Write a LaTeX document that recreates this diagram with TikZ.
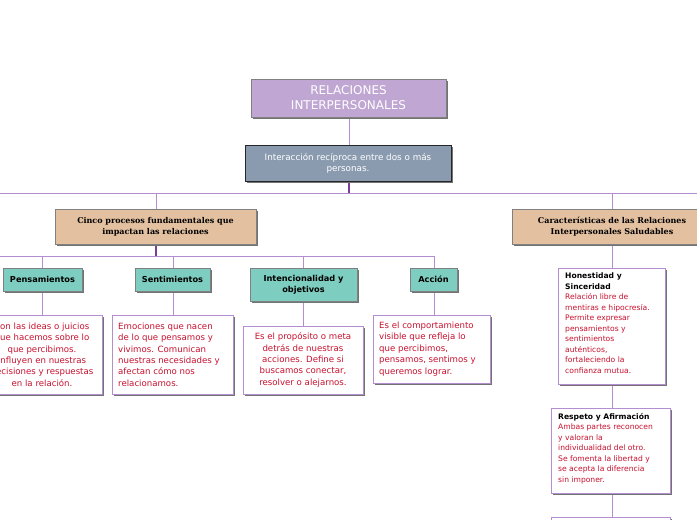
\documentclass[tikz,border=0pt]{standalone}
\usepackage{fontspec}
\setmainfont{DejaVu Sans}
\newfontfamily\serifb{DejaVu Serif}
\definecolor{lil}{HTML}{C0A6D3}
\definecolor{slate}{HTML}{8A9BB0}
\definecolor{tan}{HTML}{E2C0A0}
\definecolor{teal}{HTML}{7DCDC0}
\definecolor{lnk}{HTML}{B48ED0}
\definecolor{lnkd}{HTML}{7A3E9A}
\definecolor{red}{HTML}{C8102E}
\begin{document}
\begin{tikzpicture}[x=1pt,y=-1pt,
 ln/.style={draw=lnk,line width=0.9pt},
 lnd/.style={draw=lnkd,line width=1.2pt},
 t/.style={font=\fontsize{8.8}{11}\selectfont,align=center,text=white},
 tb/.style={font=\fontsize{8.2}{11}\selectfont\bfseries,align=center},
 tr/.style={font=\fontsize{8.6}{11.4}\selectfont,text=red,inner sep=0pt}]
\useasboundingbox (0,0) rectangle (697,520);
% connectors
\coordinate (h0) at (0,193); \coordinate (h1) at (697,193);
\draw[ln] (h0) -- (h1);
\draw[ln] (349,117) -- (349,145);
\draw[lnd] (349,181) -- (349,193);
\draw[ln] (156,193) -- (156,209);
\draw[ln] (612,193) -- (612,209);
\draw[lnd] (156,244) -- (156,256);
\draw[ln] (0,256) -- (435,256);
\foreach \x in {42,173,303,434} \draw[ln] (\x,256) -- (\x,268);
\foreach \x in {42,173,434} \draw[ln] (\x,291) -- (\x,315);
\draw[ln] (303,301) -- (303,326);
\draw[ln] (612,244) -- (612,268);
\draw[ln] (612,384) -- (612,408);
\draw[ln] (612,493) -- (612,517);
% boxes
\newcommand\bx[6]{% name, x1,y1,x2,y2, fill/draw
 \fill[black!55] (#2+2,#3+2) rectangle (#4+2,#5+2);
 \filldraw[#6,line width=0.8pt] (#2,#3) rectangle (#4,#5);
 \coordinate (#1) at ({(#2+#4)/2},{(#3+#5)/2});}
\bx{a}{251}{79}{446}{117}{fill=lil,draw=black!50}
\node[t,font=\fontsize{12}{15}\selectfont] at (a) {RELACIONES\\INTERPERSONALES};
\bx{b}{245}{145}{451}{181}{fill=slate,draw=black!85}
\node[t] at (b) {Interacción recíproca entre dos o más\\personas.};
\bx{c}{55}{209}{256}{244}{fill=tan,draw=black!50}
\node[font=\serifb\fontsize{8}{11}\selectfont\bfseries,align=center] at (c) {Cinco procesos fundamentales que\\impactan las relaciones};
\bx{d}{512}{209}{700}{244}{fill=tan,draw=black!50}
\node[font=\serifb\fontsize{8}{11}\selectfont\bfseries,align=center] at (612,226.5) {Características de las Relaciones\\Interpersonales Saludables};
\bx{p}{3}{268}{82}{291}{fill=teal,draw=black!50}
\node[tb] at (p) {Pensamientos};
\bx{s}{135}{268}{210}{291}{fill=teal,draw=black!50}
\node[tb] at (s) {Sentimientos};
\bx{i}{250}{268}{357}{301}{fill=teal,draw=black!50}
\node[tb] at (i) {Intencionalidad y\\objetivos};
\bx{ac}{410}{268}{457}{291}{fill=teal,draw=black!50}
\node[tb] at (ac) {Acción};
\bx{pt}{-20}{315}{102}{394}{fill=white,draw=lnk}
\node[tr,align=center] at (42,354.5) {Son las ideas o juicios\\que hacemos sobre lo\\que percibimos.\\Influyen en nuestras\\decisiones y respuestas\\en la relación.};
\bx{st}{112}{315}{233}{394}{fill=white,draw=lnk}
\node[tr,align=left,anchor=west] at (118,354.5) {Emociones que nacen\\de lo que pensamos y\\vivimos. Comunican\\nuestras necesidades y\\afectan cómo nos\\relacionamos.};
\bx{it}{243}{326}{363}{394}{fill=white,draw=lnk}
\node[tr,align=center] at (it) {Es el propósito o meta\\detrás de nuestras\\acciones. Define si\\buscamos conectar,\\resolver o alejarnos.};
\bx{at}{373}{315}{490}{383}{fill=white,draw=lnk}
\node[tr,align=left,anchor=west] at (379,349) {Es el comportamiento\\visible que refleja lo\\que percibimos,\\pensamos, sentimos y\\queremos lograr.};
\bx{h}{558}{268}{665}{384}{fill=white,draw=lnk}
\node[tr,align=left,anchor=north west,font=\fontsize{7.6}{10.5}\selectfont] at (565,273) {\textcolor{black}{\bfseries Honestidad y}\\\textcolor{black}{\bfseries Sinceridad}\\Relación libre de\\mentiras e hipocresía.\\Permite expresar\\pensamientos y\\sentimientos\\auténticos,\\fortaleciendo la\\confianza mutua.};
\bx{r}{551}{408}{670}{493}{fill=white,draw=lnk}
\node[tr,align=left,anchor=north west,font=\fontsize{7.6}{10.5}\selectfont] at (558,413) {\textcolor{black}{\bfseries Respeto y Afirmación}\\Ambas partes reconocen\\y valoran la\\individualidad del otro.\\Se fomenta la libertad y\\se acepta la diferencia\\sin imponer.};
\bx{n}{551}{517}{670}{540}{fill=white,draw=lnk}
\end{tikzpicture}
\end{document}
